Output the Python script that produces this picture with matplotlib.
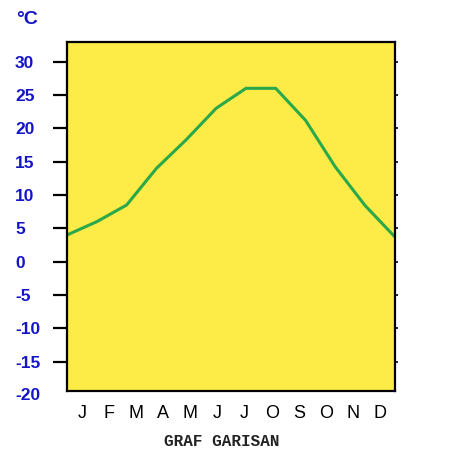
import matplotlib
matplotlib.use("Agg")
import matplotlib.pyplot as plt
import matplotlib.transforms as mtransforms
import numpy as np

# ---- data ----
months = ["J", "F", "M", "A", "M", "J", "J", "O", "S", "O", "N", "D"]
temps = [4.0, 6.0, 8.5, 14.0, 18.3, 23.0, 26.0, 26.0, 21.2, 14.2, 8.4, 3.7]
y_ticks = [-15, -10, -5, 0, 5, 10, 15, 20, 25, 30]
y_bottom_label = -20
unit_label = "°C"
title = "GRAF GARISAN"

BLUE = "#1414C8"
YELLOW = "#FDEB47"
GREEN = "#2BA84A"

W, H = 467, 473
fig = plt.figure(figsize=(W / 100, H / 100), dpi=100)
fig.patch.set_facecolor("white")
L, R, T, B = 67, 395, 42, 391
ax = fig.add_axes([L / W, 1 - B / H, (R - L) / W, (B - T) / H])
ax.set_facecolor(YELLOW)

ax.plot(np.arange(len(temps)), temps, color=GREEN, lw=2.2, solid_joinstyle="round")
ax.set_xlim(0, len(temps) - 1)
ax.set_ylim(-19.4, 32.95)

for s in ax.spines.values():
    s.set_linewidth(1.6)
    s.set_color("black")

# y axis
ax.set_yticks(y_ticks)
ax.set_yticklabels([str(v) for v in y_ticks])
ax.tick_params(axis="y", direction="out", length=10, width=1.6, pad=27.4,
               labelcolor=BLUE, labelsize=12.5, right=True)
for lab in ax.get_yticklabels():
    lab.set_ha("left")
    lab.set_fontweight("bold")
    lab.set_family("Liberation Sans")
for t in ax.yaxis.get_major_ticks():
    t.tick2line.set_markersize(2.5)
    t.tick2line.set_markeredgewidth(1.2)

trans = mtransforms.blended_transform_factory(fig.transFigure, ax.transData)
ax.text(15 / W, y_bottom_label, str(y_bottom_label), transform=trans, ha="left",
        va="center", color=BLUE, fontsize=12.5, fontweight="bold",
        family="Liberation Sans", clip_on=False)

# x axis
xpos = np.linspace(0.5, 10.5, len(months))
ax.set_xticks(xpos)
ax.set_xticklabels(months)
ax.tick_params(axis="x", length=0, pad=10, labelsize=13, labelcolor="black")
for lab in ax.get_xticklabels():
    lab.set_family("Liberation Sans")

fig.text(27 / W, 1 - 20 / H, unit_label, ha="center", va="center", color=BLUE,
         fontsize=14, fontweight="bold", family="Liberation Sans")
fig.text(221.7 / W, 1 - 441 / H, title, ha="center", va="center",
         family="Liberation Mono", fontweight="bold", fontsize=11.5, color="#222222")

fig.savefig("out.png", dpi=100, facecolor="white")
